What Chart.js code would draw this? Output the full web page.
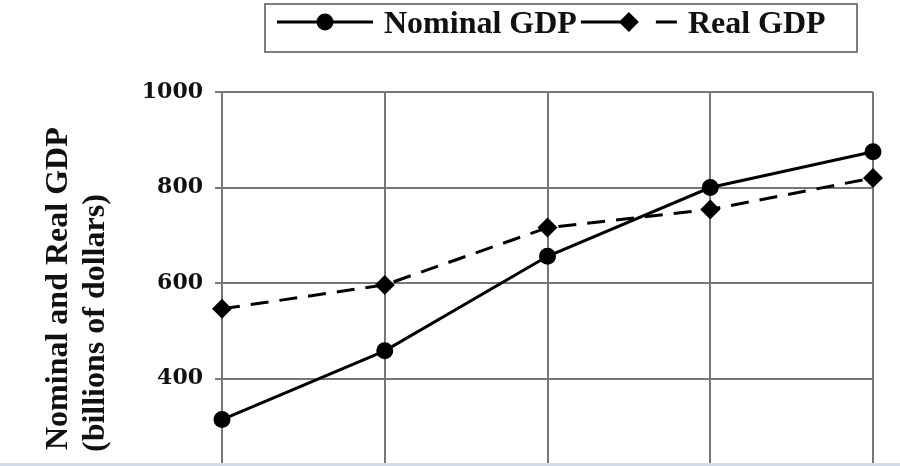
<!DOCTYPE html>
<html>
<head>
<meta charset="utf-8">
<title>Nominal and Real GDP</title>
<script src="https://cdn.jsdelivr.net/npm/chart.js@4.4.0/dist/chart.umd.min.js"></script>
<style>
    html, body { margin: 0; padding: 0; background: #fff; overflow: hidden; width: 900px; height: 466px; }
    #contenedor { position: relative; width: 900px; height: 466px; overflow: hidden; }
    #myChart { position: absolute; left: 0; top: 0; }
    #franja { position: absolute; left: 0; top: 463px; width: 900px; height: 3px; background: #d3d9e6; }
</style>
</head>
<body>
<div id="contenedor">
    <canvas id="myChart" width="900" height="520"></canvas>
    <div id="franja"></div>
</div>
<script>
var categorias = ['1', '2', '3', '4', '5'];
var nominalGdp = [314, 458, 656, 800, 875];
var realGdp = [546, 596, 716, 754, 820];
var yTicks = [200, 400, 600, 800, 1000];
var yTitulo = ['Nominal and Real GDP', '(billions of dollars)'];

var fuenteTexto = 'bold 32px "Liberation Serif", "Times New Roman", serif';

// titulo del eje y, dos lineas giradas y alineadas abajo
var titulo_eje = {
    id: 'titulo_eje',
    afterDraw: function (chart) {
        var ctx = chart.ctx;
        var area = chart.chartArea;
        ctx.save();
        ctx.fillStyle = '#111';
        ctx.font = fuenteTexto;
        ctx.textAlign = 'left';
        ctx.textBaseline = 'alphabetic';
        yTitulo.forEach(function (linea, i) {
            ctx.save();
            ctx.translate(area.left - 155 + i * 37, area.bottom - 24 + i * 2);
            ctx.rotate(-Math.PI / 2);
            ctx.fillText(linea, 0, 0);
            ctx.restore();
        });
        ctx.restore();
    }
};

// leyenda estilo excel: linea + marcador + texto dentro de una caja
var leyenda = {
    id: 'leyenda',
    afterDraw: function (chart) {
        var ctx = chart.ctx;
        var caja = { x: 265, y: 4, w: 592, h: 48 };
        var yLinea = 22;
        var ancho = 96;
        ctx.save();
        ctx.strokeStyle = '#7d7d7d';
        ctx.lineWidth = 2;
        ctx.strokeRect(caja.x, caja.y, caja.w, caja.h);
        ctx.font = fuenteTexto;
        ctx.textAlign = 'left';
        ctx.textBaseline = 'alphabetic';
        var x = caja.x + 12;
        chart.data.datasets.forEach(function (ds) {
            ctx.strokeStyle = ds.borderColor;
            ctx.lineWidth = ds.borderWidth;
            ctx.setLineDash(ds.legendDash || []);
            ctx.beginPath();
            ctx.moveTo(x, yLinea);
            ctx.lineTo(x + ancho, yLinea);
            ctx.stroke();
            ctx.setLineDash([]);
            ctx.fillStyle = ds.pointBackgroundColor;
            Chart.helpers.drawPoint(ctx, {
                pointStyle: ds.pointStyle,
                radius: ds.pointRadius,
                rotation: 0,
                borderWidth: 0
            }, x + ancho / 2, yLinea);
            ctx.fillStyle = '#111';
            ctx.fillText(ds.label, x + ancho + 11, 33);
            x += ancho + 11 + ctx.measureText(ds.label).width + 4;
        });
        ctx.restore();
    }
};

var grafico_lineas = function () {
    var ctx = document.getElementById('myChart');
    var myChart = new Chart(ctx, {
        type: 'line',
        data: {
            labels: categorias,
            datasets: [
                {
                    label: 'Nominal GDP',
                    data: nominalGdp,
                    borderColor: '#000',
                    backgroundColor: '#000',
                    borderWidth: 3,
                    pointStyle: 'circle',
                    pointRadius: 8.5,
                    pointBackgroundColor: '#000',
                    pointBorderColor: '#000',
                    pointBorderWidth: 0,
                    tension: 0,
                    clip: false
                },
                {
                    label: 'Real GDP',
                    data: realGdp,
                    borderColor: '#000',
                    backgroundColor: '#000',
                    borderWidth: 3,
                    borderDash: [18, 11],
                    legendDash: [47, 28, 21],
                    pointStyle: 'rectRot',
                    pointRadius: 10,
                    pointBackgroundColor: '#000',
                    pointBorderColor: '#000',
                    pointBorderWidth: 0,
                    tension: 0,
                    clip: false
                }
            ]
        },
        plugins: [titulo_eje, leyenda],
        options: {
            responsive: false,
            animation: false,
            layout: {
                padding: { left: 0, top: 92, right: 27, bottom: 46 }
            },
            plugins: {
                legend: { display: false },
                tooltip: { enabled: false }
            },
            scales: {
                x: {
                    offset: false,
                    ticks: { display: false },
                    grid: { color: '#767676', lineWidth: 2, drawTicks: false },
                    border: { display: false },
                    afterFit: function (scale) { scale.height = 0; }
                },
                y: {
                    min: yTicks[0],
                    max: yTicks[yTicks.length - 1],
                    afterBuildTicks: function (scale) {
                        scale.ticks = yTicks.map(function (v) { return { value: v }; });
                    },
                    ticks: {
                        color: '#111',
                        padding: 12,
                        font: { family: 'DejaVu Serif', weight: 'bold', size: 22 },
                        callback: function (value) { return String(value); }
                    },
                    grid: { color: '#767676', lineWidth: 2, tickLength: 7 },
                    border: { color: '#767676', width: 2 },
                    afterFit: function (scale) { scale.width = 222; }
                }
            }
        }
    });
}

grafico_lineas();
</script>
</body>
</html>
